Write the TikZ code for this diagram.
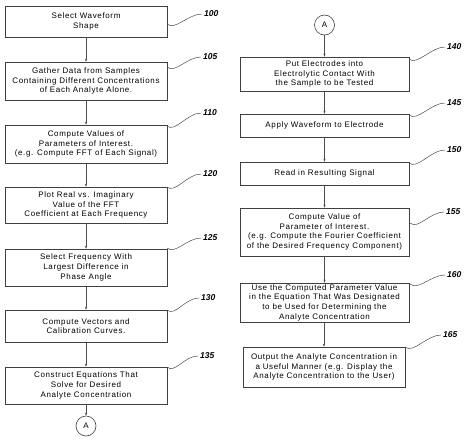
\documentclass[tikz,border=0pt]{standalone}
\usepackage{fontspec}
\setmainfont{Liberation Sans}
\newfontfamily\bodyfont[LetterSpace=8]{Liberation Sans}
\usetikzlibrary{arrows.meta}
\begin{document}
\begin{tikzpicture}[x=1pt,y=-1pt,
  stepbox/.style={draw=black!75,line width=0.6pt,rectangle,inner sep=0pt,align=center,
    font=\bodyfont\fontsize{8}{9.7}\selectfont},
  conn/.style={circle,draw=black!75,line width=0.6pt,minimum size=20pt,inner sep=0pt,font=\bodyfont\fontsize{8}{9}\selectfont},
  flow/.style={draw=black!70,line width=0.5pt,-{Stealth[length=3pt,width=2.2pt]}},
  leader/.style={draw=black!70,line width=0.5pt},
  reflab/.style={anchor=west,inner sep=0pt,font=\fontsize{8.5}{9}\selectfont\itshape\bfseries}]
\useasboundingbox (0,0) rectangle (474,447);
% left column
\node[stepbox,minimum width=162pt,minimum height=31pt] (b100) at (86,21.5) {Select Waveform\\Shape};
\node[stepbox,minimum width=162pt,minimum height=38pt] (b105) at (86,81) {Gather Data from Samples\\Containing Different Concentrations\\of Each Analyte Alone.};
\node[stepbox,minimum width=162pt,minimum height=38pt] (b110) at (86,144) {Compute Values of\\Parameters of Interest.\\(e.g. Compute FFT of Each Signal)};
\node[stepbox,minimum width=162pt,minimum height=36pt] (b120) at (86,205) {Plot Real vs. Imaginary\\Value of the FFT\\Coefficient at Each Frequency};
\node[stepbox,minimum width=162pt,minimum height=37pt] (b125) at (86,267.5) {Select Frequency With\\Largest Difference in\\Phase Angle};
\node[stepbox,minimum width=162pt,minimum height=32pt] (b130) at (86,326) {Compute Vectors and\\Calibration Curves.};
\node[stepbox,minimum width=162pt,minimum height=37pt] (b135) at (86,385.5) {Construct Equations That\\Solve for Desired\\Analyte Concentration};
\node[conn] (aL) at (86,426) {A};
% right column
\node[conn] (aR) at (324.5,25) {A};
\node[stepbox,minimum width=169pt,minimum height=34pt] (b140) at (324.5,74) {Put Electrodes into\\Electrolytic Contact With\\the Sample to be Tested};
\node[stepbox,minimum width=169pt,minimum height=23pt] (b145) at (324.5,125.5) {Apply Waveform to Electrode};
\node[stepbox,minimum width=169pt,minimum height=23pt] (b150) at (324.5,173.5) {Read in Resulting Signal};
\node[stepbox,minimum width=169pt,minimum height=48pt] (b155) at (324.5,232) {Compute Value of\\Parameter of Interest.\\(e.g. Compute the Fourier Coefficient\\of the Desired Frequency Component)};
\node[stepbox,minimum width=169pt,minimum height=39pt] (b160) at (324.5,302.5) {Use the Computed Parameter Value\\in the Equation That Was Designated\\to be Used for Determining the\\Analyte Concentration};
\node[stepbox,minimum width=162pt,minimum height=40pt] (b165) at (324,367) {Output the Analyte Concentration in\\a Useful Manner (e.g. Display the\\Analyte Concentration to the User)};
% flow arrows
\draw[flow] (b100) -- (b105);
\draw[flow] (b105) -- (b110);
\draw[flow] (b110) -- (b120);
\draw[flow] (b120) -- (b125);
\draw[flow] (b125) -- (b130);
\draw[flow] (b130) -- (b135);
\draw[flow] (b135) -- (aL);
\draw[flow] (aR) -- (b140);
\draw[flow] (b140) -- (b145);
\draw[flow] (b145) -- (b150);
\draw[flow] (b150) -- (b155);
\draw[flow] (b155) -- (b160);
\draw[flow] (b160.south -| b165.north) -- (b165);
% reference labels and leaders
\foreach \n/\sx/\sy/\ex/\ey in {100/167/24/202/14, 105/167/67/201/57, 110/167/126/201/113,
  120/167/187/201/174, 125/167/248/201/238, 130/167/310/199/298, 135/167/367/198/356,
  140/409/59/445/47, 145/409/115/445/103, 150/409/163/445/150, 155/410/223/444/212,
  160/410/284/445/275, 165/405/347/441/335}{
  \coordinate (s\n) at (\sx,\sy);
  \coordinate (e\n) at (\ex,\ey);
  \node[reflab] (r\n) at ([xshift=2pt]e\n) {\n};
  \draw[leader] (s\n) .. controls ([xshift=8pt,yshift=-7pt]s\n) and ([xshift=-14pt]e\n) .. (e\n);
}
\end{tikzpicture}
\end{document}
